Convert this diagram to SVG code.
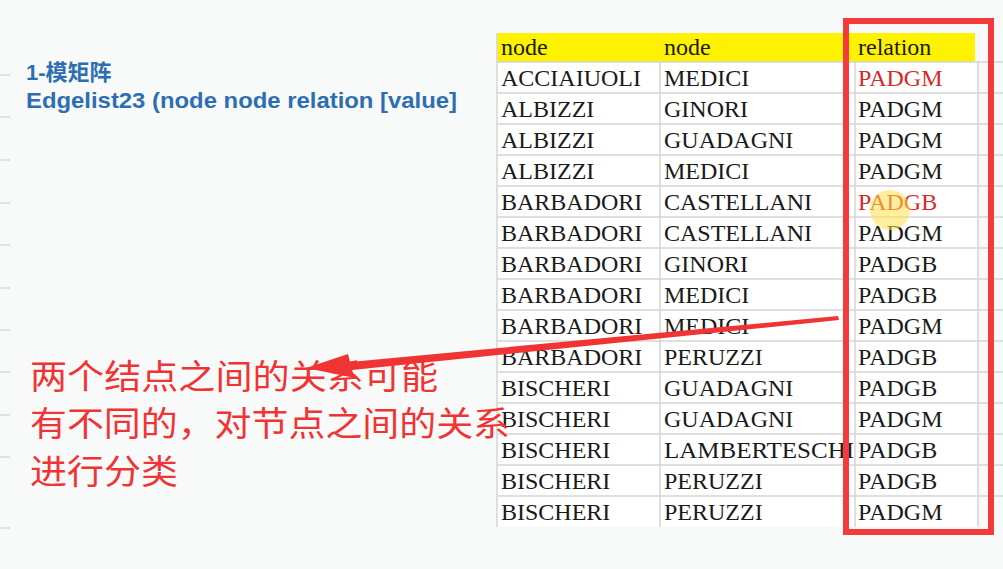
<svg xmlns="http://www.w3.org/2000/svg" width="1003" height="569" viewBox="0 0 1003 569">
<style>
.t{font-family:"Liberation Serif",serif;font-size:24px;fill:#1a1a1a}
.r{fill:#d42a2a}
.h{font-family:"Liberation Sans","Noto Sans CJK SC",sans-serif;font-weight:bold;font-size:22px;fill:#2e6eb0}
.c{font-family:"Noto Sans CJK SC",sans-serif;font-size:34px;fill:#f03434}
.g{stroke:#d4d4d4;stroke-width:1.5}
</style>
<rect width="1003" height="569" fill="#f8fafa"/>
<g id="edge" stroke="#d8d8d8" stroke-width="1.5">
<line x1="0" y1="75" x2="10" y2="75"/><line x1="0" y1="117" x2="10" y2="117"/><line x1="0" y1="160" x2="10" y2="160"/><line x1="0" y1="203" x2="10" y2="203"/><line x1="0" y1="245" x2="10" y2="245"/><line x1="0" y1="288" x2="10" y2="288"/><line x1="0" y1="330" x2="10" y2="330"/><line x1="0" y1="372" x2="10" y2="372"/><line x1="0" y1="415" x2="10" y2="415"/><line x1="0" y1="457" x2="10" y2="457"/><line x1="0" y1="528" x2="10" y2="528"/>
</g>
<g id="title"><text class="h" x="26" y="80">1-模矩阵</text><text class="h" x="26" y="108" textLength="431" lengthAdjust="spacingAndGlyphs">Edgelist23 (node node relation [value]</text></g>
<g id="table">
<rect x="497" y="33" width="478" height="29" fill="#fff200"/>
<rect x="497" y="62" width="482" height="465" fill="#ffffff"/>
<g class="g">
<line x1="497" y1="62" x2="1003" y2="62"/><line x1="497" y1="93" x2="1003" y2="93"/><line x1="497" y1="124" x2="1003" y2="124"/><line x1="497" y1="155" x2="1003" y2="155"/><line x1="497" y1="186" x2="1003" y2="186"/><line x1="497" y1="217" x2="1003" y2="217"/><line x1="497" y1="248" x2="1003" y2="248"/><line x1="497" y1="279" x2="1003" y2="279"/><line x1="497" y1="310" x2="1003" y2="310"/><line x1="497" y1="341" x2="1003" y2="341"/><line x1="497" y1="372" x2="1003" y2="372"/><line x1="497" y1="403" x2="1003" y2="403"/><line x1="497" y1="434" x2="1003" y2="434"/><line x1="497" y1="465" x2="1003" y2="465"/><line x1="497" y1="496" x2="1003" y2="496"/>
<line x1="497" y1="33" x2="497" y2="527"/><line x1="660" y1="62" x2="660" y2="527"/><line x1="855" y1="62" x2="855" y2="527"/><line x1="978" y1="62" x2="978" y2="527"/>
</g>
<text class="t" x="501" y="55">node</text><text class="t" x="664" y="55">node</text><text class="t" x="858" y="55">relation</text>
<g class="t">
<text x="501" y="86">ACCIAIUOLI</text><text x="664" y="86">MEDICI</text><text x="858" y="86" class="t r">PADGM</text>
<text x="501" y="117">ALBIZZI</text><text x="664" y="117">GINORI</text><text x="858" y="117">PADGM</text>
<text x="501" y="148">ALBIZZI</text><text x="664" y="148">GUADAGNI</text><text x="858" y="148">PADGM</text>
<text x="501" y="179">ALBIZZI</text><text x="664" y="179">MEDICI</text><text x="858" y="179">PADGM</text>
<text x="501" y="210">BARBADORI</text><text x="664" y="210">CASTELLANI</text><text x="858" y="210" class="t r">PADGB</text>
<text x="501" y="241">BARBADORI</text><text x="664" y="241">CASTELLANI</text><text x="858" y="241">PADGM</text>
<text x="501" y="272">BARBADORI</text><text x="664" y="272">GINORI</text><text x="858" y="272">PADGB</text>
<text x="501" y="303">BARBADORI</text><text x="664" y="303">MEDICI</text><text x="858" y="303">PADGB</text>
<text x="501" y="334">BARBADORI</text><text x="664" y="334">MEDICI</text><text x="858" y="334">PADGM</text>
<text x="501" y="365">BARBADORI</text><text x="664" y="365">PERUZZI</text><text x="858" y="365">PADGB</text>
<text x="501" y="396">BISCHERI</text><text x="664" y="396">GUADAGNI</text><text x="858" y="396">PADGB</text>
<text x="501" y="427">BISCHERI</text><text x="664" y="427">GUADAGNI</text><text x="858" y="427">PADGM</text>
<text x="501" y="458">BISCHERI</text><text x="664" y="458" textLength="190" lengthAdjust="spacingAndGlyphs">LAMBERTESCHI</text><text x="858" y="458">PADGB</text>
<text x="501" y="489">BISCHERI</text><text x="664" y="489">PERUZZI</text><text x="858" y="489">PADGB</text>
<text x="501" y="520">BISCHERI</text><text x="664" y="520">PERUZZI</text><text x="858" y="520">PADGM</text>
</g>
<circle cx="890" cy="210" r="20" fill="#ffe24a" opacity="0.55"/>
</g>
<rect id="highlight" x="846" y="21" width="145" height="511" fill="none" stroke="#f43a3a" stroke-width="6"/>
<g id="connectors">
<polygon points="838,316 839,320 352,370 355,378 306,368 348,354 350,362" fill="#f03434"/>
</g>
<g id="note"><text class="c" x="30" y="389" textLength="408" lengthAdjust="spacingAndGlyphs">两个结点之间的关系可能</text><text class="c" x="30" y="436" textLength="480" lengthAdjust="spacingAndGlyphs">有不同的，对节点之间的关系</text><text class="c" x="30" y="484" textLength="148" lengthAdjust="spacingAndGlyphs">进行分类</text></g>
</svg>
